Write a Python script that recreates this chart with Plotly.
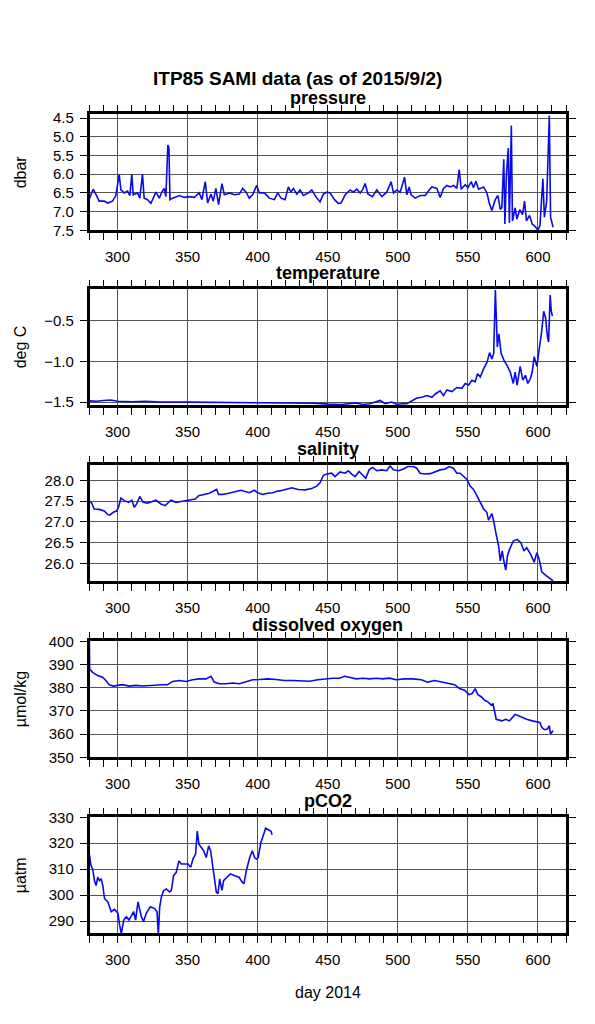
import plotly.graph_objects as go

# pressure, dbar (y axis reversed)
pres_day = [279.7, 282.6, 284.5, 286.9, 290.5, 292.9, 296.4, 298.8, 301.2, 302.4, 304.8, 307.1, 308.8, 310.2,
            311.2, 314.3, 315.9, 317.8, 319.0, 321.4, 323.8, 327.4, 329.8, 331.7, 333.3, 334.5, 335.9, 336.7,
            337.4, 339.3, 344.1, 347.6, 351.2, 354.8, 358.3, 360.2, 362.6, 364.3, 366.7, 368.3, 370.2, 372.1,
            374.5, 376.2, 379.8, 383.3, 386.9, 389.3, 391.7, 394.0, 396.4, 399.3, 401.2, 404.8, 408.3, 411.9,
            414.3, 416.7, 419.5, 421.9, 423.8, 425.5, 427.9, 430.3, 432.6, 436.2, 438.6, 441.5, 444.5, 446.9,
            449.3, 451.7, 454.8, 457.6, 459.5, 462.4, 466.0, 468.3, 470.7, 473.1, 474.8, 476.7, 478.6, 481.9,
            485.0, 488.6, 492.1, 495.2, 496.9, 499.3, 501.7, 504.8, 506.4, 508.1, 509.5, 512.4, 515.9, 519.5,
            522.4, 524.3, 527.9, 530.2, 532.6, 535.0, 537.4, 539.8, 542.1, 543.8, 545.2, 548.1, 550.0, 552.4,
            554.0, 555.7, 557.6, 561.2, 563.6, 565.2, 567.1, 569.5, 571.4, 573.1, 574.2, 575.6, 576.4, 577.5,
            578.8, 579.6, 581.0, 581.8, 583.7, 585.0, 587.0, 589.0, 590.4, 591.8, 594.0, 595.9, 598.0, 600.0,
            601.4, 603.5, 604.6, 606.2, 608.1, 609.0, 610.8]
pres_val = [6.68, 6.40, 6.53, 6.72, 6.72, 6.77, 6.72, 6.57, 6.00, 6.42, 6.50, 6.45, 6.57, 6.00,
            6.55, 6.50, 6.64, 6.00, 6.64, 6.68, 6.78, 6.48, 6.64, 6.47, 6.38, 6.60, 5.22, 5.30,
            6.68, 6.64, 6.57, 6.62, 6.60, 6.62, 6.50, 6.68, 6.20, 6.77, 6.53, 6.72, 6.38, 6.81,
            6.25, 6.55, 6.50, 6.55, 6.53, 6.38, 6.48, 6.64, 6.55, 6.30, 6.50, 6.50, 6.64, 6.68,
            6.50, 6.64, 6.68, 6.34, 6.48, 6.38, 6.53, 6.42, 6.57, 6.50, 6.42, 6.60, 6.74, 6.53,
            6.48, 6.50, 6.68, 6.78, 6.77, 6.55, 6.42, 6.48, 6.40, 6.50, 6.42, 6.25, 6.53, 6.60,
            6.42, 6.60, 6.48, 6.20, 6.50, 6.42, 6.48, 6.08, 6.55, 6.34, 6.55, 6.64, 6.57, 6.57,
            6.42, 6.34, 6.38, 6.62, 6.38, 6.30, 6.34, 6.30, 6.38, 5.88, 6.40, 6.28, 6.36, 6.20,
            6.36, 6.19, 6.40, 6.34, 6.50, 6.77, 6.97, 6.68, 6.57, 6.94, 6.90, 5.60, 7.33, 6.00,
            5.30, 7.30, 4.70, 7.25, 6.90, 7.20, 6.95, 7.08, 6.72, 7.25, 7.10, 7.33, 7.40, 7.50,
            7.37, 6.12, 7.15, 6.72, 4.43, 7.15, 7.42]

# temperature, deg C
temp_day = [280, 285, 290, 295, 300, 310, 320, 330, 350, 380, 400, 420, 440, 450, 460, 470, 475, 480, 485,
            487.4, 491.0, 495.7, 499.3, 502.9, 506.4, 510.0, 513.6, 517.1, 520.7, 524.3, 526.7, 530.2, 532.6,
            535.0, 538.6, 542.1, 545.7, 548.1, 550.5, 552.9, 555.2, 556.9, 558.8, 561.2, 563.6, 565.5, 567.1,
            568.4, 569.6, 571.0, 572.1, 573.7, 575.6, 578.3, 580.2, 582.4, 583.7, 585.1, 587.3, 589.2, 591.1,
            592.7, 594.6, 595.9, 597.3, 599.2, 601.4, 602.7, 604.1, 605.4, 606.8, 607.6, 608.7, 609.5, 610.3]
temp_val = [-1.485, -1.49, -1.48, -1.475, -1.49, -1.495, -1.49, -1.50, -1.50, -1.505, -1.51, -1.51, -1.515,
            -1.525, -1.53, -1.51, -1.53, -1.52, -1.49,
            -1.48, -1.52, -1.50, -1.53, -1.52, -1.52, -1.48, -1.45, -1.44, -1.42, -1.44, -1.40, -1.36, -1.42,
            -1.35, -1.37, -1.32, -1.33, -1.27, -1.29, -1.23, -1.25, -1.15, -1.19, -1.09, -1.01, -0.89, -0.97,
            -0.90, -0.12, -0.82, -0.66, -0.90, -0.98, -1.06, -1.13, -1.27, -1.13, -1.29, -1.06, -1.23, -1.17,
            -1.27, -1.21, -1.13, -0.94, -1.06, -0.82, -0.62, -0.38, -0.46, -0.70, -0.76, -0.18, -0.38, -0.44]

# salinity
sal_day = [279.7, 281.6, 283.3, 286.9, 290.5, 292.9, 294.5, 296.9, 299.3, 300.7, 302.4, 304.8, 307.9, 310.2,
           311.9, 313.6, 315.9, 318.3, 321.4, 324.5, 327.4, 331.0, 334.0, 338.1, 341.7, 345.2, 348.8, 352.4,
           355.5, 357.9, 361.9, 365.5, 367.9, 370.7, 372.1, 375.0, 378.6, 382.1, 384.5, 388.1, 390.5, 394.0,
           397.6, 400.0, 403.6, 407.1, 410.7, 414.3, 417.9, 421.4, 424.3, 429.0, 433.8, 438.5, 442.1, 444.5,
           446.9, 449.3, 452.8, 455.2, 458.8, 462.4, 464.7, 467.1, 469.5, 472.4, 474.7, 477.1, 479.5, 481.9,
           485.0, 488.5, 492.1, 494.5, 496.9, 500.5, 504.0, 507.1, 511.2, 513.5, 515.9, 519.5, 523.1, 526.6,
           530.2, 533.8, 536.6, 539.7, 542.1, 544.5, 546.9, 549.3, 551.6, 554.0, 556.4, 558.8, 561.2, 563.5,
           564.7, 567.1, 568.3, 570.0, 571.9, 573.1, 574.5, 575.6, 577.0, 578.3, 579.7, 582.4, 585.1, 587.8,
           590.0, 591.9, 594.6, 597.3, 599.2, 600.8, 602.7, 605.4, 608.1, 610.8]
sal_val = [27.51, 27.45, 27.31, 27.30, 27.26, 27.18, 27.16, 27.23, 27.26, 27.35, 27.57, 27.51, 27.47, 27.52,
           27.35, 27.43, 27.61, 27.47, 27.45, 27.48, 27.52, 27.43, 27.39, 27.52, 27.47, 27.49, 27.51, 27.52,
           27.55, 27.63, 27.66, 27.69, 27.73, 27.78, 27.66, 27.66, 27.68, 27.70, 27.73, 27.76, 27.73, 27.70,
           27.76, 27.70, 27.66, 27.69, 27.70, 27.74, 27.76, 27.80, 27.82, 27.78, 27.77, 27.80, 27.86, 27.94,
           28.12, 28.15, 28.17, 28.09, 28.20, 28.17, 28.23, 28.15, 28.09, 28.21, 28.13, 28.05, 28.25, 28.31,
           28.23, 28.25, 28.23, 28.35, 28.25, 28.23, 28.27, 28.33, 28.33, 28.29, 28.17, 28.15, 28.16, 28.21,
           28.25, 28.27, 28.33, 28.29, 28.17, 28.17, 28.09, 28.02, 27.86, 27.78, 27.63, 27.47, 27.31, 27.23,
           27.04, 27.20, 27.04, 26.73, 26.42, 26.06, 26.30, 26.07, 25.84, 26.19, 26.34, 26.54, 26.58, 26.50,
           26.30, 26.38, 26.23, 26.03, 26.26, 26.11, 25.80, 25.72, 25.64, 25.58]

# dissolved oxygen, umol/kg
oxy_day = [279.9, 280.1, 282.2, 285.8, 289.3, 291.7, 294.0, 296.9, 300.0, 303.5, 308.3, 313.1, 317.9, 322.6,
           327.4, 332.1, 335.7, 339.3, 344.0, 348.8, 353.6, 358.3, 363.1, 366.7, 369.0, 372.6, 377.4, 382.1,
           386.9, 391.7, 396.4, 401.2, 407.1, 413.1, 419.0, 425.0, 430.9, 436.9, 442.9, 448.8, 453.6, 458.3,
           461.9, 465.5, 470.2, 475.0, 479.8, 484.5, 489.3, 494.0, 498.8, 504.8, 510.7, 516.7, 521.4, 526.2,
           531.0, 535.7, 540.5, 544.0, 547.6, 550.7, 553.1, 555.2, 557.1, 559.5, 561.9, 564.3, 566.7, 567.9,
           569.0, 570.2, 574.3, 577.0, 579.7, 583.7, 587.8, 591.9, 595.9, 598.6, 601.4, 602.7, 604.6, 606.8,
           608.1, 608.9, 610.8]
oxy_val = [400.0, 388.0, 386.6, 385.2, 384.5, 383.1, 381.3, 380.7, 381.0, 381.3, 380.7, 381.0, 380.7, 381.0,
           381.0, 381.3, 381.3, 382.7, 383.1, 382.7, 383.4, 383.8, 383.8, 384.9, 382.4, 381.7, 381.7, 382.0,
           381.7, 382.7, 383.4, 383.5, 383.8, 383.5, 383.1, 383.1, 382.8, 382.8, 383.4, 383.8, 384.1, 384.1,
           384.9, 384.5, 383.8, 384.1, 383.8, 384.1, 383.8, 384.1, 383.4, 383.8, 383.8, 383.4, 382.4, 383.1,
           382.4, 382.0, 381.3, 379.6, 378.9, 377.0, 377.5, 379.6, 377.0, 376.1, 374.6, 373.9, 372.5, 373.2,
           369.0, 366.4, 365.7, 366.4, 365.7, 368.5, 367.5, 366.4, 365.7, 365.3, 365.0, 362.9, 361.9, 362.2,
           363.6, 360.1, 361.5]

# pCO2, uatm
pco2_day = [279.9, 281.1, 282.3, 283.5, 284.7, 285.9, 287.1, 288.3, 289.5, 290.7, 293.1, 295.5, 297.9, 300.3,
            301.5, 302.7, 304.4, 306.3, 308.2, 309.8, 311.5, 312.9, 314.6, 317.0, 318.6, 320.5, 323.4, 326.5,
            328.2, 329.1, 330.1, 331.3, 332.9, 334.8, 337.2, 338.4, 340.0, 341.9, 343.8, 345.5, 347.9, 350.3,
            352.2, 353.8, 355.7, 356.9, 358.1, 359.8, 361.4, 363.3, 365.0, 366.4, 367.6, 369.3, 370.5, 371.7,
            372.9, 374.5, 375.7, 378.1, 380.5, 383.6, 386.7, 389.0, 390.2, 391.9, 394.3, 396.2, 397.8, 399.0,
            400.3, 402.2, 404.1, 405.7, 407.6, 409.5, 410.3]
pco2_val = [315.8, 311.3, 310.1, 305.6, 303.7, 306.9, 305.6, 306.3, 303.7, 298.7, 297.4, 293.6, 294.5, 293.0,
            288.5, 285.1, 290.4, 291.7, 290.4, 291.9, 293.6, 290.4, 297.4, 291.7, 289.8, 293.0, 295.5, 294.8,
            293.6, 284.7, 295.5, 299.3, 301.8, 302.4, 301.2, 301.8, 307.5, 308.8, 313.2, 312.0, 312.0, 312.0,
            310.7, 313.9, 315.8, 324.7, 319.6, 318.3, 317.1, 314.5, 319.0, 317.1, 312.0, 305.6, 301.2, 300.6,
            306.3, 301.8, 305.6, 306.9, 308.2, 307.5, 306.9, 305.0, 304.4, 309.4, 314.5, 317.1, 314.5, 313.9,
            314.4, 320.1, 323.3, 325.8, 325.2, 324.6, 323.3]

panels = [
    ('pressure', 'dbar', pres_day, pres_val, [7.5, 4.4], [4.5, 5.0, 5.5, 6.0, 6.5, 7.0, 7.5], '.1f'),
    ('temperature', 'deg C', temp_day, temp_val, [-1.54, -0.11], [-1.5, -1.0, -0.5], '.1f'),
    ('salinity', '', sal_day, sal_val, [25.57, 28.36], [26.0, 26.5, 27.0, 27.5, 28.0], '.1f'),
    ('dissolved oxygen', 'µmol/kg', oxy_day, oxy_val, [350, 400], [350, 360, 370, 380, 390, 400], 'd'),
    ('pCO2', 'µatm', pco2_day, pco2_val, [285.3, 330], [290, 300, 310, 320, 330], 'd'),
]

# the page body has an 8px margin, so the figure is made smaller and shifted by it
OFF = 8
W, H = 595 - 2 * OFF, 1024 - 2 * OFF


def px(x):
    return (x - OFF) / W


def py(y):
    return 1 - (y - OFF) / H


x0, x1 = px(89.5), px(566)
tops = [107, 285, 464, 643, 822]
ph = 118

font = 'Liberation Sans, Arial, Helvetica, sans-serif'
fig = go.Figure()
annotations = []

for i, (name, unit, days, vals, yr, yt, fmt) in enumerate(panels):
    n = '' if i == 0 else str(i + 1)
    top = tops[i]
    fig.add_trace(go.Scatter(x=days, y=vals, mode='lines', xaxis='x' + n, yaxis='y' + n,
                             line=dict(color='#0a0ae6', width=1.6), showlegend=False))
    axis_common = dict(showline=True, linecolor='black', linewidth=2.5, mirror='allticks',
                       ticks='outside', tickcolor='black', tickwidth=1.3, ticklen=7,
                       showgrid=True, gridcolor='#555555', gridwidth=1, zeroline=False,
                       tickfont=dict(family=font, size=15, color='black'))
    fig.layout['xaxis' + n] = dict(axis_common, domain=[x0, x1], range=[280, 620], anchor='y' + n,
                                   tickvals=[300, 350, 400, 450, 500, 550, 600], ticklabelstandoff=4,
                                   minor=dict(dtick=10, tick0=280, ticks='outside', ticklen=7,
                                              tickcolor='black', tickwidth=1.3, showgrid=False))
    fig.layout['yaxis' + n] = dict(axis_common, domain=[py(top + ph), py(top)], range=yr, anchor='x' + n,
                                   tickvals=yt, tickformat=fmt, ticklabelstandoff=3)
    annotations.append(dict(text='<b>' + name + '</b>', x=(x0 + x1) / 2, y=py(top - 17),
                            xref='paper', yref='paper', showarrow=False, xanchor='center', yanchor='middle',
                            font=dict(family=font, size=18, color='black')))
    if unit:
        annotations.append(dict(text=unit, x=px(20), y=py(top + ph / 2), xref='paper', yref='paper',
                                showarrow=False, textangle=-90, xanchor='center', yanchor='middle',
                                font=dict(family=font, size=16, color='black')))

annotations.append(dict(text='<b>ITP85 SAMI data (as of 2015/9/2)</b>', x=px(297.5), y=py(71),
                        xref='paper', yref='paper', showarrow=False, xanchor='center', yanchor='middle',
                        font=dict(family=font, size=19, color='black')))
annotations.append(dict(text='day 2014', x=(x0 + x1) / 2, y=py(1000), xref='paper', yref='paper',
                        showarrow=False, xanchor='center', yanchor='middle',
                        font=dict(family=font, size=16, color='black')))

fig.update_layout(width=W, height=H, margin=dict(l=0, r=0, t=0, b=0),
                  paper_bgcolor='white', plot_bgcolor='white', annotations=annotations)

fig.write_html("out.html")
